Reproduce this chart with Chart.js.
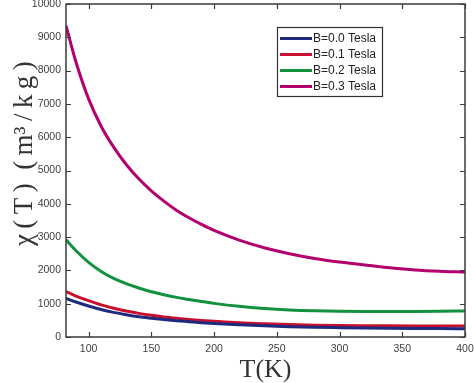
<!DOCTYPE html>
<html>
<head>
<meta charset="utf-8">
<script src="https://cdn.jsdelivr.net/npm/chart.js@4.4.1/dist/chart.umd.min.js"></script>
<style>
html,body{margin:0;padding:0;background:#fff;}
#wrap{width:474px;height:383px;position:relative;}
</style>
</head>
<body>
<div id="wrap"><canvas id="c" width="474" height="383"></canvas></div>
<script>
// ---- data ----
const temperatures = [82, 90, 100, 110, 120, 130, 140, 150, 160, 170, 180, 190, 200, 220, 240, 260, 280, 300, 320, 340, 360, 380, 400];
const chiB00 = [1160, 1050, 930, 825, 740, 670, 610, 565, 525, 490, 460, 430, 405, 365, 335, 310, 292, 280, 270, 262, 256, 252, 250];
const chiB01 = [1360, 1230, 1090, 965, 865, 780, 710, 650, 600, 560, 525, 495, 470, 425, 395, 372, 356, 346, 340, 335, 332, 330, 330];
const chiB02 = [2920, 2590, 2240, 1970, 1760, 1600, 1470, 1360, 1270, 1190, 1125, 1065, 1010, 920, 855, 812, 788, 775, 768, 766, 768, 773, 780];
const chiB03 = [9350, 8250, 7150, 6330, 5700, 5180, 4750, 4390, 4080, 3810, 3580, 3380, 3200, 2910, 2680, 2500, 2360, 2250, 2160, 2080, 2015, 1975, 1950];
const seriesLabels = ['B=0.0 Tesla', 'B=0.1 Tesla', 'B=0.2 Tesla', 'B=0.3 Tesla'];
const xTickValues = [100, 150, 200, 250, 300, 350, 400];
const yTickValues = [0, 1000, 2000, 3000, 4000, 5000, 6000, 7000, 8000, 9000, 10000];

const colors = ['#1d2a80', '#c8102e', '#12923f', '#b3006e'];
const allSeries = [chiB00, chiB01, chiB02, chiB03];

const datasets = allSeries.map((s, i) => ({
  label: seriesLabels[i],
  data: temperatures.map((t, k) => ({x: t, y: s[k]})),
  borderColor: colors[i],
  backgroundColor: colors[i],
  borderWidth: 3,
  pointRadius: 0,
  cubicInterpolationMode: 'monotone',
  fill: false
}));

const boxPlugin = {
  id: 'boxPlugin',
  afterDatasetsDraw(chart) {
    const {ctx, chartArea: a, scales: {x, y}} = chart;
    ctx.save();
    ctx.strokeStyle = '#3a3a3a';
    ctx.lineWidth = 1.5;
    ctx.strokeRect(a.left, a.top, a.right - a.left, a.bottom - a.top);
    ctx.lineWidth = 1.2;
    const L = 5;
    ctx.beginPath();
    xTickValues.forEach(v => {
      const px = Math.round(x.getPixelForValue(v)) + 0.5;
      ctx.moveTo(px, a.bottom); ctx.lineTo(px, a.bottom - L);
      ctx.moveTo(px, a.top); ctx.lineTo(px, a.top + L);
    });
    yTickValues.forEach(v => {
      const py = Math.round(y.getPixelForValue(v)) + 0.5;
      ctx.moveTo(a.left, py); ctx.lineTo(a.left + L, py);
      ctx.moveTo(a.right, py); ctx.lineTo(a.right - L, py);
    });
    ctx.stroke();

    // legend box
    const lx = 277, ly = 27, lw = 105, lh = 69;
    ctx.fillStyle = '#fff';
    ctx.fillRect(lx, ly, lw, lh);
    ctx.strokeStyle = '#333';
    ctx.lineWidth = 1.2;
    ctx.strokeRect(lx + 0.5, ly + 0.5, lw, lh);
    ctx.font = '12px "Liberation Sans", Arial, sans-serif';
    ctx.textBaseline = 'middle';
    ctx.textAlign = 'left';
    chart.data.datasets.forEach((ds, i) => {
      const ry = ly + 11.5 + i * 16;
      ctx.strokeStyle = ds.borderColor;
      ctx.lineWidth = 3;
      ctx.beginPath();
      ctx.moveTo(lx + 3, ry); ctx.lineTo(lx + 35, ry);
      ctx.stroke();
      ctx.fillStyle = '#222';
      ctx.fillText(ds.label, lx + 36, ry + 0.5);
    });
    ctx.restore();
  }
};

new Chart(document.getElementById('c'), {
  type: 'line',
  data: {datasets},
  options: {
    responsive: false,
    animation: false,
    layout: {padding: {top: 4, right: 9, left: 0, bottom: 0}},
    plugins: {legend: {display: false}, tooltip: {enabled: false}},
    scales: {
      x: {
        type: 'linear',
        min: 82, max: 400,
        afterBuildTicks(s) { s.ticks = xTickValues.map(v => ({value: v})); },
        afterFit(s) { s.height = 46; s.paddingLeft = 0; s.paddingRight = 0; },
        grid: {display: false, drawTicks: false},
        border: {display: false},
        ticks: {padding: 6, color: '#404040', font: {family: '"Liberation Sans", Arial, sans-serif', size: 10.5}, maxRotation: 0, autoSkip: false, callback: v => String(v)},
        title: {display: true, text: 'T(K)', color: '#333', padding: 0, font: {family: '"Liberation Serif", "Times New Roman", serif', size: 26, lineHeight: 1}}
      },
      y: {
        type: 'linear',
        min: 0, max: 10000,
        afterBuildTicks(s) { s.ticks = yTickValues.map(v => ({value: v})); },
        afterFit(s) { s.width = 66; s.paddingTop = 0; s.paddingBottom = 0; },
        grid: {display: false, drawTicks: false},
        border: {display: false},
        ticks: {padding: 5, color: '#404040', font: {family: '"Liberation Sans", Arial, sans-serif', size: 10.5}, autoSkip: false, callback: v => String(v)},
        title: {display: true, text: '\u00A0\u00A0\u00A0\u00A0\u00A0χ\u2009(\u2009T\u2009)\u00A0\u00A0(\u2009m³\u2009/\u2009k\u2009g\u2009)', color: '#333', padding: {top: 11, bottom: 0}, font: {family: '"Liberation Serif", "Times New Roman", serif', size: 27, lineHeight: 1}}
      }
    }
  },
  plugins: [boxPlugin]
});
</script>
</body>
</html>
